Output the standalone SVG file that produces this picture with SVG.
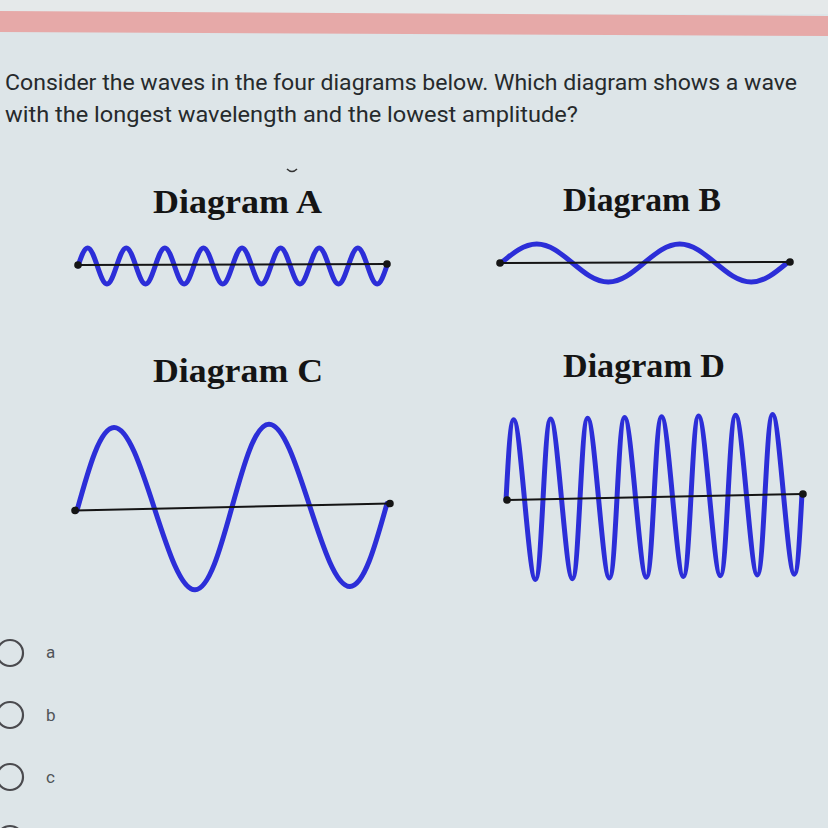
<svg xmlns="http://www.w3.org/2000/svg" width="828" height="828" viewBox="0 0 828 828">
<defs>
<style>
.q{font-family:Roboto,"Liberation Sans",sans-serif;font-size:22px;fill:#262a2c}
.t{font-family:"Liberation Serif","Times New Roman",serif;font-weight:bold;font-size:34px;fill:#141414}
.opt{font-family:Roboto,"Liberation Sans",sans-serif;font-size:17px;fill:#505458}
.wave{fill:none;stroke:#2c2ed8;stroke-width:5;stroke-linejoin:round;stroke-linecap:round}
.axis{stroke:#151515;stroke-width:2}
.dot{fill:#151515}
.radio{fill:none;stroke:#4a4a4e;stroke-width:2.2}
</style>
</defs>
<rect width="828" height="828" fill="#dde5e8"/>
<rect width="828" height="14" fill="#e5e9ea"/>
<polygon points="0,11 828,16 828,36 0,32" fill="#e6a9a8"/>
<text class="q" x="5" y="90" textLength="792" lengthAdjust="spacingAndGlyphs">Consider the waves in the four diagrams below. Which diagram shows a wave</text>
<text class="q" x="5" y="122" textLength="573" lengthAdjust="spacingAndGlyphs">with the longest wavelength and the lowest amplitude?</text>
<path d="M287,169 q5,5 10,0" fill="none" stroke="#333" stroke-width="1.5"/>

<g id="diagramA">
<text class="t" x="153" y="213" textLength="169" lengthAdjust="spacingAndGlyphs">Diagram A</text>
<path class="wave" d="M78,266
c3.15,-9.22 6.16,-18 9.65,-18 c3.49,0 6.50,8.78 9.65,18 c3.15,9.22 6.16,18 9.65,18 c3.49,0 6.50,-8.78 9.65,-18
c3.15,-9.22 6.16,-18 9.65,-18 c3.49,0 6.50,8.78 9.65,18 c3.15,9.22 6.16,18 9.65,18 c3.49,0 6.50,-8.78 9.65,-18
c3.15,-9.22 6.16,-18 9.65,-18 c3.49,0 6.50,8.78 9.65,18 c3.15,9.22 6.16,18 9.65,18 c3.49,0 6.50,-8.78 9.65,-18
c3.15,-9.22 6.16,-18 9.65,-18 c3.49,0 6.50,8.78 9.65,18 c3.15,9.22 6.16,18 9.65,18 c3.49,0 6.50,-8.78 9.65,-18
c3.15,-9.22 6.16,-18 9.65,-18 c3.49,0 6.50,8.78 9.65,18 c3.15,9.22 6.16,18 9.65,18 c3.49,0 6.50,-8.78 9.65,-18
c3.15,-9.22 6.16,-18 9.65,-18 c3.49,0 6.50,8.78 9.65,18 c3.15,9.22 6.16,18 9.65,18 c3.49,0 6.50,-8.78 9.65,-18
c3.15,-9.22 6.16,-18 9.65,-18 c3.49,0 6.50,8.78 9.65,18 c3.15,9.22 6.16,18 9.65,18 c3.49,0 6.50,-8.78 9.65,-18
c3.15,-9.22 6.16,-18 9.65,-18 c3.49,0 6.50,8.78 9.65,18 c3.15,9.22 6.16,18 9.65,18 c3.49,0 6.50,-8.78 9.65,-18"/>
<line class="axis" x1="78" y1="265" x2="387" y2="264"/>
<circle class="dot" cx="78" cy="265" r="3.8"/>
<circle class="dot" cx="387" cy="264" r="3.8"/>
</g>

<g id="diagramB">
<text class="t" x="563" y="211" textLength="158" lengthAdjust="spacingAndGlyphs">Diagram B</text>
<path class="wave" d="M501,263
c11.66,-9.73 22.81,-19 35.75,-19 c12.94,0 24.09,9.27 35.75,19 c11.66,9.73 22.81,19 35.75,19 c12.94,0 24.09,-9.27 35.75,-19
c11.66,-9.73 22.81,-19 35.75,-19 c12.94,0 24.09,9.27 35.75,19 c11.66,9.73 22.81,19 35.75,19 c12.94,0 24.09,-9.27 35.75,-19"/>
<line class="axis" x1="500" y1="263" x2="790" y2="262"/>
<circle class="dot" cx="500" cy="263" r="3.8"/>
<circle class="dot" cx="790" cy="262" r="3.8"/>
</g>

<g id="diagramC">
<text class="t" x="153" y="382" textLength="170" lengthAdjust="spacingAndGlyphs">Diagram C</text>
<g transform="rotate(-1.25 232 507)">
<path class="wave" d="M77,507
c12.64,-42.01 24.73,-82 38.75,-82 c14.02,0 26.11,39.99 38.75,82 c12.64,42.01 24.73,82 38.75,82 c14.02,0 26.11,-39.99 38.75,-82
c12.64,-42.01 24.73,-82 38.75,-82 c14.02,0 26.11,39.99 38.75,82 c12.64,42.01 24.73,82 38.75,82 c14.02,0 26.11,-39.99 38.75,-82"/>
<line class="axis" x1="75" y1="507" x2="390" y2="507"/>
<circle class="dot" cx="75" cy="507" r="3.8"/>
<circle class="dot" cx="390" cy="507" r="3.8"/>
</g>
</g>

<g id="diagramD">
<text class="t" x="563" y="377" textLength="162" lengthAdjust="spacingAndGlyphs">Diagram D</text>
<g transform="rotate(-1.15 655 497)">
<path class="wave" d="M506,497
c3.02,-40.98 5.90,-80 9.25,-80 c3.35,0 6.23,39.02 9.25,80 c3.02,40.98 5.90,80 9.25,80 c3.35,0 6.23,-39.02 9.25,-80
c3.02,-40.98 5.90,-80 9.25,-80 c3.35,0 6.23,39.02 9.25,80 c3.02,40.98 5.90,80 9.25,80 c3.35,0 6.23,-39.02 9.25,-80
c3.02,-40.98 5.90,-80 9.25,-80 c3.35,0 6.23,39.02 9.25,80 c3.02,40.98 5.90,80 9.25,80 c3.35,0 6.23,-39.02 9.25,-80
c3.02,-40.98 5.90,-80 9.25,-80 c3.35,0 6.23,39.02 9.25,80 c3.02,40.98 5.90,80 9.25,80 c3.35,0 6.23,-39.02 9.25,-80
c3.02,-40.98 5.90,-80 9.25,-80 c3.35,0 6.23,39.02 9.25,80 c3.02,40.98 5.90,80 9.25,80 c3.35,0 6.23,-39.02 9.25,-80
c3.02,-40.98 5.90,-80 9.25,-80 c3.35,0 6.23,39.02 9.25,80 c3.02,40.98 5.90,80 9.25,80 c3.35,0 6.23,-39.02 9.25,-80
c3.02,-40.98 5.90,-80 9.25,-80 c3.35,0 6.23,39.02 9.25,80 c3.02,40.98 5.90,80 9.25,80 c3.35,0 6.23,-39.02 9.25,-80
c3.02,-40.98 5.90,-80 9.25,-80 c3.35,0 6.23,39.02 9.25,80 c3.02,40.98 5.90,80 9.25,80 c3.35,0 6.23,-39.02 9.25,-80"/>
<line class="axis" x1="507" y1="497" x2="803" y2="497"/>
<circle class="dot" cx="507" cy="497" r="3.8"/>
<circle class="dot" cx="803" cy="497" r="3.8"/>
</g>
</g>

<g id="optionA">
<circle class="radio" cx="10" cy="653" r="13"/>
<text class="opt" x="46" y="658">a</text>
</g>
<g id="optionB">
<circle class="radio" cx="10" cy="715" r="13"/>
<text class="opt" x="46" y="721">b</text>
</g>
<g id="optionC">
<circle class="radio" cx="10" cy="777" r="13"/>
<text class="opt" x="46" y="783">c</text>
</g>
<g id="optionD">
<circle class="radio" cx="10" cy="839" r="13"/>
</g>
</svg>
